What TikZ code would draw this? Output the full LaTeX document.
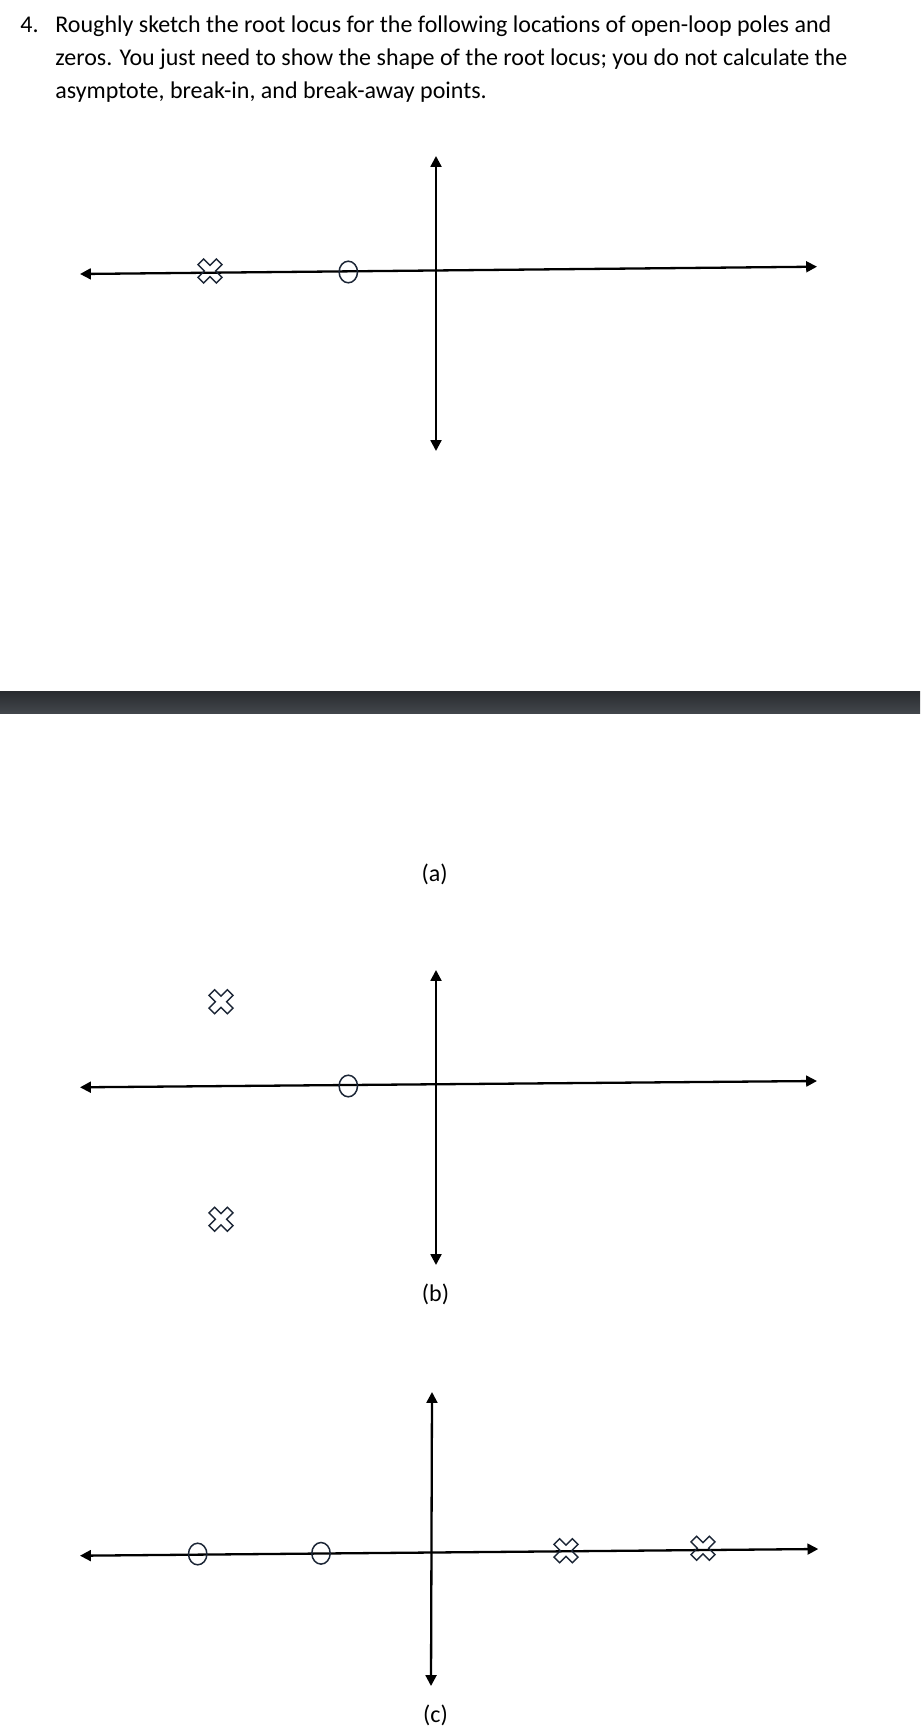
\documentclass[tikz,border=0pt]{standalone}
\usepackage{fontspec}
\setmainfont{Carlito}
\usetikzlibrary{shapes.geometric, arrows.meta}
\definecolor{marknavy}{RGB}{28,38,54}
\definecolor{bartop}{RGB}{40,43,47}
\definecolor{barmid}{RGB}{82,87,92}
\definecolor{barbot}{RGB}{66,70,75}
\def\tip{Triangle[length=5.4pt,width=5.4pt]}
\tikzstyle{axis} = [line width=1.15pt, {\tip}-{\tip}]
\tikzstyle{zero} = [ellipse, draw=marknavy, line width=0.75pt, minimum width=9.2pt, minimum height=10.8pt, inner sep=0pt]
\tikzstyle{pole} = [draw=marknavy, line width=0.7pt, line join=miter]
\tikzstyle{lbl} = [font=\fontsize{12}{14}\selectfont, inner sep=0pt]
\newcommand{\polemark}[2]{%
  \coordinate (#1) at (#2);
  \draw[pole, shift={(#2)}, rotate=45] (4,13) -- (4,4) -- (13,4) -- (13,-4) -- (4,-4) -- (4,-13)
    -- (-4,-13) -- (-4,-4) -- (-13,-4) -- (-13,4) -- (-4,4) -- (-4,13) -- cycle;}

\begin{document}
\begin{tikzpicture}[x=0.5pt, y=-0.5pt]
  \useasboundingbox (0,0) rectangle (920,1733);

  % question text
  \node (num) [lbl, anchor=base west] at (20,32.5) {4.};
  \node (task1) [lbl, anchor=base west] at (55,32.5) {Roughly sketch the root locus for the following locations of open-loop poles and};
  \node (task2) [lbl, anchor=base west] at (55,66) {zeros. You just need to show the shape of the root locus; you do not calculate the};
  \node (task3) [lbl, anchor=base west] at (55,99) {asymptote, break-in, and break-away points.};

  % (a)
  \coordinate (aW) at (80,274);
  \coordinate (aE) at (817,266.7);
  \coordinate (aN) at (436,156);
  \coordinate (aS) at (436,451);
  \draw [axis] (aW) -- (aE);
  \draw [axis] (aN) -- (aS);
  \polemark{ap1}{210,271}
  \node (az1) [zero] at (348.3,272) {};

  % page break bar
  \shade [top color=bartop, middle color=barmid, bottom color=barbot] (0,691) rectangle (920,713);

  \node (alab) [lbl] at (434.7,874) {(a)};

  % (b)
  \coordinate (bW) at (80,1087.3);
  \coordinate (bE) at (817,1081);
  \coordinate (bN) at (436,970);
  \coordinate (bS) at (436,1265);
  \draw [axis] (bW) -- (bE);
  \draw [axis] (bN) -- (bS);
  \polemark{bp1}{221,1001.7}
  \polemark{bp2}{221,1219.3}
  \node (bz1) [zero] at (348.3,1086) {};

  \node (blab) [lbl] at (435.5,1294) {(b)};

  % (c)
  \coordinate (cW) at (80,1555.7);
  \coordinate (cE) at (818.3,1549);
  \coordinate (cN) at (432,1392);
  \coordinate (cS) at (431,1686);
  \draw [axis] (cW) -- (cE);
  \draw [axis] (cN) -- (cS);
  \node (cz1) [zero] at (197.7,1554) {};
  \node (cz2) [zero] at (321,1553.3) {};
  \polemark{cp1}{566,1550.7}
  \polemark{cp2}{703,1548.3}

  \node (clab) [lbl] at (435.5,1715) {(c)};

\end{tikzpicture}
\end{document}
